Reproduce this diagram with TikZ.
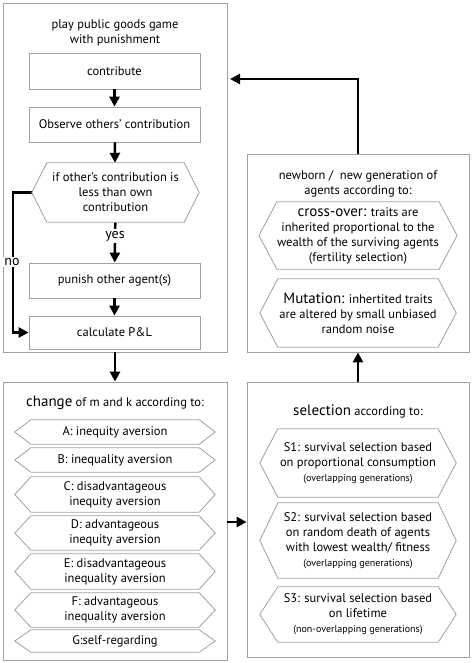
\documentclass[tikz,border=0pt]{standalone}
\usepackage{fontspec}
\setmainfont{PT Sans}
\usetikzlibrary{arrows.meta}
\definecolor{boxgray}{HTML}{A0A0A0}
\tikzset{
  frame/.style={draw=boxgray, line width=0.8pt, inner sep=0pt},
  box/.style={draw=boxgray, line width=0.8pt, align=center, inner sep=0pt,
    font=\fontsize{12.5}{15}\selectfont},
  txt/.style={align=center, inner sep=0pt, font=\fontsize{12.5}{15}\selectfont},
  hexa/.style={align=center, inner sep=0pt, font=\fontsize{12.5}{15}\selectfont},
  hexline/.style={draw=boxgray, line width=0.8pt},
  arr/.style={line width=2.5pt, -{Triangle[length=10pt,width=10pt]}},
  lbl/.style={align=center, inner sep=0pt, font=\fontsize{14}{16}\selectfont},
}
\newcommand{\bigw}[1]{{\fontsize{15}{16}\selectfont #1}}
\newcommand{\smallw}[1]{{\fontsize{10}{12}\selectfont #1}}
\begin{document}
\begin{tikzpicture}[x=1pt,y=-1pt]
\useasboundingbox (0,0) rectangle (474,663);
\fill[white] (0,0) rectangle (474,663);

% ---------- top-left: game ----------
\node[frame, minimum width=224pt, minimum height=349pt] (gamebox) at (115,177.5) {};
\node[txt] (gtitle) at (115,33) {play public goods game\\with punishment};
\node[box, minimum width=171pt, minimum height=36pt] (contrib) at (114.5,71) {contribute};
\node[box, minimum width=171pt, minimum height=35pt] (observe) at (114.5,124.5) {Observe others’ contribution};
\node[hexa, minimum width=137pt, minimum height=59pt] (dec) at (115.5,192.5)
  {if other’s contribution is\\less than own\\contribution};
\node[lbl] (yes) at (115,236) {yes};
\node[box, minimum width=171pt, minimum height=35pt] (punish) at (114.5,280.5) {punish other agent(s)};
\node[box, minimum width=171pt, minimum height=33pt] (calc) at (114.5,332.5) {calculate P\&L};

\draw[arr] (contrib) -- (observe);
\draw[arr] (observe) -- (dec);
\draw[line width=2.5pt] (dec.south) -- ([yshift=2pt]yes.north);
\draw[arr] ([yshift=-2pt]yes.south) -- (punish);
\draw[arr] (punish) -- (calc);
\draw[arr] ([xshift=-15pt]dec.west) -- ++(-19,0) |- (calc.west);
\node[lbl, fill=white, inner sep=1.5pt] (no) at (12,262) {no};

% ---------- bottom-left: change ----------
\node[frame, minimum width=224pt, minimum height=278pt] (chbox) at (115,521) {};
\node[txt] (chtitle) at (115,403) {\bigw{change} of m and k according to:};
\node[hexa, minimum width=168pt, minimum height=24pt] (ha) at (115,432) {A: inequity aversion};
\node[hexa, minimum width=168pt, minimum height=24pt] (hb) at (115,460) {B: inequality aversion};
\node[hexa, minimum width=168pt, minimum height=35pt] (hc) at (115,494.5) {C: disadvantageous\\inequity aversion};
\node[hexa, minimum width=168pt, minimum height=34pt] (hd) at (115,533) {D: advantageous\\inequity aversion};
\node[hexa, minimum width=168pt, minimum height=35pt] (he) at (115,571.5) {E: disadvantageous\\inequality aversion};
\node[hexa, minimum width=168pt, minimum height=34pt] (hf) at (115,610) {F: advantageous\\inequality aversion};
\node[hexa, minimum width=168pt, minimum height=22pt] (hg) at (115,641) {G:self-regarding};

% ---------- bottom-right: selection ----------
\node[frame, minimum width=222pt, minimum height=275pt] (selbox) at (358,519.5) {};
\node[txt] (seltitle) at (358,412) {\bigw{selection} according to:};
\node[hexa, minimum width=160pt, minimum height=68pt] (s1) at (358,463)
  {S1: survival selection based\\on proportional consumption\\\smallw{(overlapping generations)}};
\node[hexa, minimum width=160pt, minimum height=75pt] (s2) at (358,540.5)
  {S2: survival selection based\\on random death of agents\\with lowest wealth/ fitness\\\smallw{(overlapping generations)}};
\node[hexa, minimum width=160pt, minimum height=55pt] (s3) at (358,614.5)
  {S3: survival selection based\\on lifetime\\\smallw{(non-overlapping generations)}};

% ---------- top-right: newborn ----------
\node[frame, minimum width=222pt, minimum height=198pt] (nbbox) at (358,253) {};
\node[txt] (nbtitle) at (358,183.5) {newborn /~ new generation of\\agents according to:};
\node[hexa, minimum width=160pt, minimum height=67pt] (cross) at (358,235.5)
  {\bigw{cross-over:} traits are\\inherited proportional to the\\wealth of the surviving agents\\(fertility selection)};
\node[hexa, minimum width=160pt, minimum height=68pt] (mut) at (358,313)
  {\bigw{Mutation:} inhertited traits\\are altered by small unbiased\\random noise};

% hexagon outlines
\foreach \n/\s in {dec/15, ha/16, hb/16, hc/16, hd/16, he/16, hf/16, hg/16,
                   s1/18, s2/18, s3/18, cross/18, mut/18} {
  \draw[hexline] (\n.north west) -- (\n.north east) -- ([xshift=\s pt]\n.east)
    -- (\n.south east) -- (\n.south west) -- ([xshift=-\s pt]\n.west) -- cycle;
}

% ---------- connectors between boxes ----------
\coordinate (backtip) at (230,79);
\draw[arr] (gamebox.south) -- (chbox.north);
\draw[arr] (chbox.east |- 0,522) -- (selbox.west |- 0,522);
\draw[arr] (selbox.north) -- (nbbox.south);
\draw[arr] (nbbox.north) |- (backtip);
\end{tikzpicture}
\end{document}
